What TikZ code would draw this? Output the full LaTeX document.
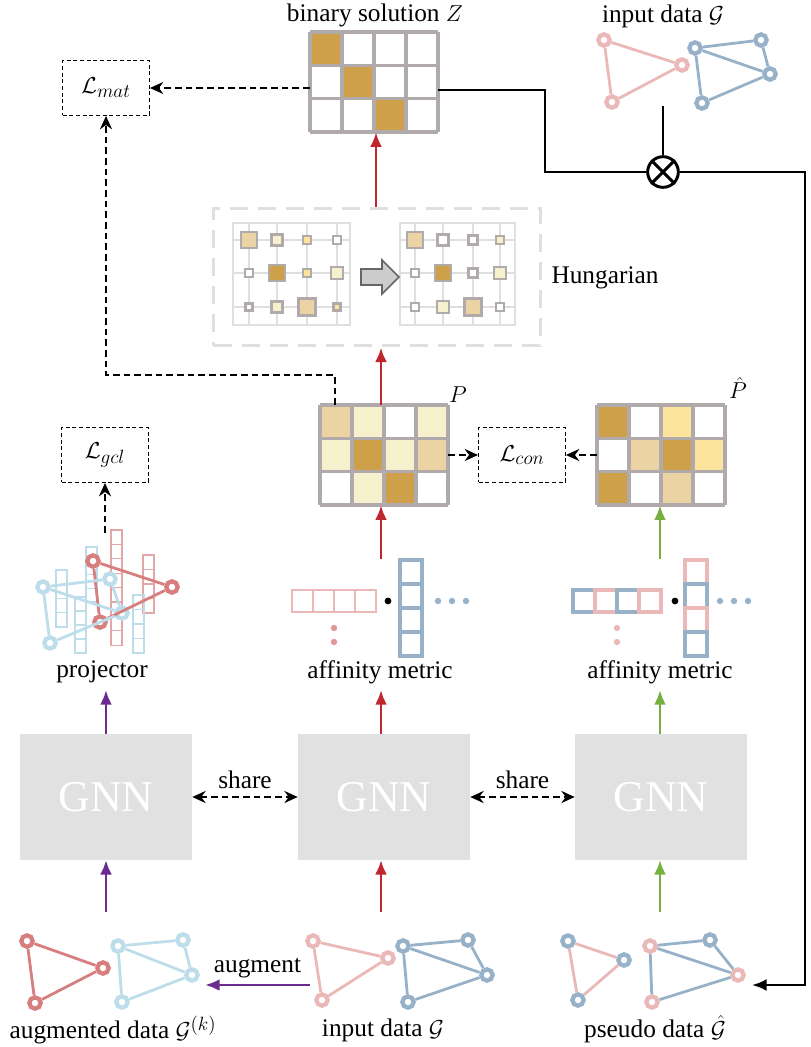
\documentclass[tikz,border=0pt]{standalone}
\usepackage{fontspec}
\setmainfont{Liberation Serif}
\usetikzlibrary{arrows.meta,shapes.geometric}
\definecolor{gold}{HTML}{CFA04A}
\definecolor{tan}{HTML}{EBD3A3}
\definecolor{pale}{HTML}{F6F0CC}
\definecolor{yel}{HTML}{FCE49C}
\definecolor{gridc}{HTML}{B0AAAA}
\definecolor{pk}{HTML}{EBB8B8}
\definecolor{bl}{HTML}{97B2C8}
\definecolor{rd}{HTML}{D77F7F}
\definecolor{lb}{HTML}{BDDDEA}
\definecolor{ared}{HTML}{C0272D}
\definecolor{agreen}{HTML}{76B041}
\definecolor{apurple}{HTML}{6A2C91}
\definecolor{gnn}{HTML}{E1E1E1}
\newcommand{\cellmat}[3]{% x0 y0 colors
  \foreach \c [count=\i from 0] in {#3} {
    \pgfmathsetmacro\cc{int(mod(\i,4))}
    \pgfmathsetmacro\rr{int(floor(\i/4))}
    \fill[\c] ({#1+\cc*32},{#2+\rr*33.3}) rectangle ++(32,33.3);
  }
  \foreach \k in {0,...,4} \draw[gridc,line width=2.4pt] ({#1+\k*32},#2) -- ++(0,100);
  \foreach \k in {0,...,3} \draw[gridc,line width=2.4pt] (#1,{#2+\k*33.3}) -- ++(128,0);
}
\newcommand{\hsq}[4]{\draw[gridc,line width=1.8pt,fill=#4] ({#1-#3/2},{#2-#3/2}) rectangle ++(#3,#3);}
\begin{document}
\begin{tikzpicture}[x=0.75pt,y=-0.75pt,
  lab/.style={font=\fontsize{19}{21}\selectfont,inner sep=0pt},
  loss/.style={draw,line width=0.9pt,dash pattern=on 3pt off 2pt,minimum width=65pt,minimum height=41pt,font=\fontsize{19}{21}\selectfont},
  gnnbox/.style={fill=gnn,minimum width=129pt,minimum height=94pt,text=white,font=\fontsize{33}{35}\selectfont},
  nd/.style={circle,draw,line width=3.2pt,fill=white,inner sep=0pt,minimum size=8.5pt},
  ed/.style={line width=2.1pt},
  arr/.style={line width=2.2pt,-{Latex[length=11pt,width=9pt]}},
  darr/.style={line width=1.8pt,dash pattern=on 5pt off 3pt,-{Stealth[length=10pt,width=9pt]}},
  mat/.style={minimum width=96pt,minimum height=75pt,inner sep=0pt}]
\useasboundingbox (0,0) rectangle (811,1047);

% ---------- binary solution Z
\node[lab] (tZ) at (375,15) {binary solution $Z$};
\node[mat] (Z) at (374,82) {};
\cellmat{310}{32}{gold,white,white,white,white,gold,white,white,white,white,gold,white}
\node[loss] (Lmat) at (106,88) {$\mathcal{L}_{mat}$};
\draw[darr] (Z.west |- Lmat) -- (Lmat.east);

% ---------- Hungarian
\node[draw=gray!25,line width=2.6pt,dash pattern=on 14pt off 7pt,minimum width=245pt,minimum height=103pt] (H) at (377,277) {};
\node[lab] (tH) at (605,278) {Hungarian};
\draw[gray!25,line width=1pt] (233,223) rectangle (350,325);
\foreach \x in {249,277,307,337} \draw[gray!25,line width=1pt] (\x,223) -- (\x,325);
\foreach \y in {240,273,307} \draw[gray!25,line width=1pt] (233,\y) -- (350,\y);
\draw[gray!25,line width=1pt] (400,223) rectangle (515,325);
\foreach \x in {415,443,473,500} \draw[gray!25,line width=1pt] (\x,223) -- (\x,325);
\foreach \y in {240,273,307} \draw[gray!25,line width=1pt] (400,\y) -- (515,\y);
\hsq{249}{240}{16}{tan}\hsq{277}{240}{11}{pale}\hsq{307}{240}{8}{yel}\hsq{337}{240}{8}{white}
\hsq{249}{273}{8}{white}\hsq{277}{273}{16}{gold}\hsq{307}{273}{8}{yel}\hsq{337}{273}{12}{pale}
\hsq{249}{307}{7}{white}\hsq{277}{307}{11}{pale}\hsq{307}{307}{17}{tan}\hsq{337}{307}{7}{yel}
\hsq{415}{240}{16}{tan}\hsq{443}{240}{11}{white}\hsq{473}{240}{9}{white}\hsq{500}{240}{8}{pale}
\hsq{415}{273}{8}{white}\hsq{443}{273}{16}{gold}\hsq{473}{273}{9}{white}\hsq{500}{273}{12}{pale}
\hsq{415}{307}{8}{white}\hsq{443}{307}{12}{pale}\hsq{473}{307}{17}{tan}\hsq{500}{307}{8}{white}
\draw[fill=gray!40,draw=gray!80!black,line width=1.2pt] (361,269) -- (382,269) -- (382,260) -- (399,277) -- (382,294) -- (382,285) -- (361,285) -- cycle;
\coordinate (colM) at (376,0);
\draw[arr,ared] (H.north -| colM) -- (Z.south -| colM);

% ---------- P and P hat
\node[mat] (P) at (384,455) {};
\cellmat{320}{405}{tan,pale,white,pale,pale,gold,pale,tan,white,pale,gold,white}
\node[lab] (tP) at (458,395) {$P$};
\node[mat] (Ph) at (661,455) {};
\cellmat{597}{405}{gold,white,yel,white,white,tan,gold,yel,gold,white,tan,white}
\node[lab] (tPh) at (738,388) {$\hat{P}$};
\coordinate (colP) at (381,0);
\draw[arr,ared] (P.north -| colP) -- (H.south -| colP);
\node[loss] (Lcon) at (522,455) {$\mathcal{L}_{con}$};
\draw[darr] (P.east) -- (Lcon.west);
\draw[darr] (Ph.west) -- (Lcon.east);
\coordinate (c1) at (335,405);
\draw[darr] (c1) -- (335,375) -- (106,375) -- (Lmat.south);

% ---------- affinity vectors (middle)
\node[lab] (aff1) at (380,672) {affinity metric};
\node[inner sep=0pt,minimum size=1pt] (a1) at (381,560) {};
\foreach \k in {0,...,3} \draw[pk,line width=2.2pt] ({292+\k*21},590) rectangle ++(21,22);
\foreach \k in {0,...,3} \draw[bl,line width=2.4pt] (400,{560+\k*24}) rectangle ++(22,24);
\fill (388,601) circle (3.4);
\foreach \y in {628,642} \fill[rd!80] (334,\y) circle (3.2);
\foreach \x in {438,452,466} \fill[bl] (\x,601) circle (3.2);
% right
\node[lab] (aff2) at (660,672) {affinity metric};
\node[inner sep=0pt,minimum size=1pt] (a2) at (660,560) {};
\foreach \k/\c in {0/bl,1/pk,2/bl,3/pk} \draw[\c,line width=2.4pt] ({573+\k*22},590) rectangle ++(22,22);
\foreach \k/\c in {0/pk,1/bl,2/pk,3/bl} \draw[\c,line width=2.4pt] (685,{560+\k*24}) rectangle ++(22,24);
\fill (675,601) circle (3.4);
\foreach \y in {628,642} \fill[pk] (617,\y) circle (3.2);
\foreach \x in {720,734,748} \fill[bl] (\x,601) circle (3.2);
\draw[arr,ared] (a1) -- (P.south -| a1);
\draw[arr,agreen] (a2) -- (Ph.south -| a2);

% ---------- projector
\node[lab] (proj) at (102,672) {projector};
\newcommand{\vbar}[5]{\foreach \k in {1,...,#4} \draw[#5,line width=0.8pt] (#1,{#2+(\k-1)*#3}) rectangle ++(11,#3);}
\vbar{111}{530}{14.4}{8}{rd!70}
\vbar{143}{555}{14.5}{4}{rd!70}
\vbar{86}{547}{13.75}{4}{lb}
\vbar{56}{570}{14.25}{4}{lb}
\vbar{75}{597}{14}{4}{lb}
\vbar{133}{595}{14.5}{4}{lb}
\node[nd,draw=rd] (r1) at (93,561) {};
\node[nd,draw=rd] (r2) at (172,587) {};
\node[nd,draw=rd] (r3) at (100,622) {};
\node[nd,draw=lb] (b1) at (43,587) {};
\node[nd,draw=lb] (b2) at (110,579) {};
\node[nd,draw=lb] (b3) at (122,613) {};
\node[nd,draw=lb] (b4) at (50,643) {};
\draw[ed,rd] (r1) -- (r2) (r1) -- (r3) (r3) -- (r2);
\draw[ed,lb] (b1) -- (b2) (b2) -- (b3) (b1) -- (b3) (b1) -- (b4) (b4) -- (b3);
\node[loss] (Lgcl) at (105,455) {$\mathcal{L}_{gcl}$};
\coordinate (c2) at (105,533);
\draw[darr] (c2) -- (Lgcl.south);

% ---------- GNNs
\node[gnnbox] (g1) at (106,797) {GNN};
\node[gnnbox] (g2) at (384,797) {GNN};
\node[gnnbox] (g3) at (661,797) {GNN};
\draw[darr,{Stealth[length=10pt,width=9pt]}-{Stealth[length=10pt,width=9pt]}] (g1.east) -- (g2.west) node[midway,above=5pt,lab] {share};
\draw[darr,{Stealth[length=10pt,width=9pt]}-{Stealth[length=10pt,width=9pt]}] (g2.east) -- (g3.west) node[midway,above=5pt,lab] {share};
\draw[arr,apurple] (g1.north) -- (106,690);
\draw[arr,ared] (g2.north -| a1) -- (381,690);
\draw[arr,agreen] (g3.north -| a2) -- (660,690);

% ---------- bottom graphs
% augmented
\node[nd,draw=rd] (ar1) at (27,941) {};
\node[nd,draw=rd] (ar2) at (103,968) {};
\node[nd,draw=rd] (ar3) at (35,1003) {};
\node[nd,draw=lb] (ab1) at (118,946) {};
\node[nd,draw=lb] (ab2) at (183,940) {};
\node[nd,draw=lb] (ab3) at (192,975) {};
\node[nd,draw=lb] (ab4) at (122,1002) {};
\draw[ed,rd] (ar1) -- (ar2) -- (ar3) -- (ar1);
\draw[ed,lb] (ab1) -- (ab2) -- (ab3) -- (ab4) -- (ab1) (ab1) -- (ab3);
\node[lab] (laug) at (113,1030) {augmented data $\mathcal{G}^{(k)}$};
% input
\node[nd,draw=pk] (ir1) at (313,941) {};
\node[nd,draw=pk] (ir2) at (388,958) {};
\node[nd,draw=pk] (ir3) at (322,1000) {};
\node[nd,draw=bl] (ib1) at (403,946) {};
\node[nd,draw=bl] (ib2) at (468,940) {};
\node[nd,draw=bl] (ib3) at (487,975) {};
\node[nd,draw=bl] (ib4) at (408,1002) {};
\draw[ed,pk] (ir1) -- (ir2) -- (ir3) -- (ir1);
\draw[ed,bl] (ib1) -- (ib2) -- (ib3) -- (ib4) -- (ib1) (ib1) -- (ib3);
\node[lab] (linp) at (383,1030) {input data $\mathcal{G}$};
% pseudo
\node[nd,draw=bl] (pr1) at (568,941) {};
\node[nd,draw=bl] (pr2) at (624,960) {};
\node[nd,draw=bl] (pr3) at (578,1000) {};
\node[nd,draw=pk] (pb1) at (650,946) {};
\node[nd,draw=bl] (pb2) at (710,940) {};
\node[nd,draw=pk] (pb3) at (738,975) {};
\node[nd,draw=pk] (pb4) at (652,1002) {};
\draw[ed,pk] (pr1) -- (pr2) -- (pr3) -- (pr1);
\draw[ed,bl] (pb1) -- (pb2) -- (pb3) -- (pb4) -- (pb1) (pb1) -- (pb3);
\node[lab] (lpse) at (655,1029) {pseudo data $\hat{\mathcal{G}}$};
\coordinate (bin) at (381,912);
\coordinate (bpse) at (660,912);
\draw[arr,apurple] (106,912) -- (g1.south);
\draw[arr,ared] (bin) -- (g2.south -| bin);
\draw[arr,agreen] (bpse) -- (g3.south -| bpse);
\coordinate (augs) at (310,985);
\coordinate (auge) at (205,985);
\draw[arr,apurple] (augs) -- (auge) node[midway,above=4pt,lab,text=black] {augment};

% ---------- top-right input data
\node[lab] (ltop) at (663,16) {input data $\mathcal{G}$};
\node[nd,draw=pk] (tr1) at (604,40) {};
\node[nd,draw=pk] (tr2) at (682,65) {};
\node[nd,draw=pk] (tr3) at (612,102) {};
\node[nd,draw=bl] (tb1) at (695,48) {};
\node[nd,draw=bl] (tb2) at (761,40) {};
\node[nd,draw=bl] (tb3) at (770,74) {};
\node[nd,draw=bl] (tb4) at (702,103) {};
\draw[ed,pk] (tr1) -- (tr2) -- (tr3) -- (tr1);
\draw[ed,bl] (tb1) -- (tb2) -- (tb3) -- (tb4) -- (tb1) (tb1) -- (tb3);
\node[circle,draw,line width=2.2pt,minimum size=23pt,inner sep=0pt] (ot) at (663,172) {};
\draw[line width=2.2pt] (ot.north west) -- (ot.south east) (ot.north east) -- (ot.south west);
\coordinate (gtop) at (663,106);
\draw[line width=1.8pt] (gtop) -- (ot.north);
\draw[line width=1.8pt] (Z.east |- 0,90) -- (545,90) -- (545,172) -- (ot.west);
\coordinate (pend) at (752,985);
\draw[line width=1.8pt,-{Latex[length=11pt,width=9pt]}] (ot.east) -- (805,172) -- (805,985) -- (pend);
\end{tikzpicture}
\end{document}
